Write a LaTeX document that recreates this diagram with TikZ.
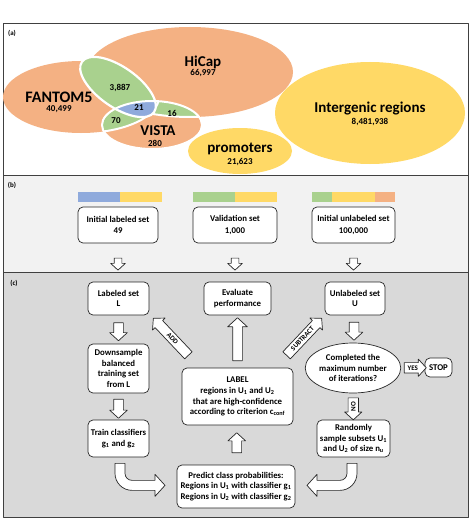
\documentclass[tikz,border=0pt]{standalone}
\usepackage{fontspec}
\setmainfont{Carlito}
\usetikzlibrary{shapes.arrows,shapes.geometric,calc}
\definecolor{vorange}{HTML}{F4B183}
\definecolor{vgreen}{HTML}{A9D18E}
\definecolor{vblue}{HTML}{8FAADC}
\definecolor{vyellow}{HTML}{FFD966}
\definecolor{framec}{HTML}{404040}
\definecolor{panelb}{HTML}{F2F2F2}
\definecolor{panelc}{HTML}{D9D9D9}
\tikzset{box/.style={draw=black!85,fill=white,line width=0.7pt,rounded corners=5pt,align=center,inner sep=1pt,font=\bfseries\fontsize{8.8}{10.8}\selectfont},
  fatarrow/.style={single arrow,draw=black!85,fill=white,line width=0.7pt,inner sep=4.5pt,single arrow head extend=4pt,single arrow tip angle=95},
  tagarrow/.style={fatarrow,inner sep=2.5pt,text height=4.6pt,text depth=0pt,single arrow head extend=3.5pt,font=\bfseries\fontsize{7}{7}\selectfont},
  vname/.style={font=\bfseries\fontsize{15}{16}\selectfont},
  vnum/.style={font=\bfseries\fontsize{9}{10}\selectfont},
  paneltag/.style={font=\bfseries\fontsize{7}{8}\selectfont}}
\newcommand\bentarrowpath{(-3.5,6) -- (6.5,6) -- (6.5,16) .. controls (6.5,19.9) and (9.6,23) .. (13.5,23) -- (36.5,23) -- (36.5,17) -- (46.5,28) -- (36.5,39) -- (36.5,33) -- (13.5,33) .. controls (4.1,33) and (-3.5,25.4) .. (-3.5,16) -- cycle}
\begin{document}
\begin{tikzpicture}[x=1pt,y=-1pt,line join=round]
\useasboundingbox (0,0) rectangle (474,524);
% --- (a) overlap of the region sets
\draw[framec,line width=1pt,fill=white] (3,24) rectangle (468,175);
\node[paneltag] (taga) at (12,33) {(a)};
\fill[vorange] (190,72) ellipse [x radius=103,y radius=45]; % HiCap
\fill[vorange] (81,97) ellipse [x radius=78,y radius=36];   % FANTOM5
\fill[vorange] (152,125) ellipse [x radius=50,y radius=24]; % VISTA
\begin{scope}
\clip (152,125) ellipse [x radius=50,y radius=24];
\fill[vgreen] (190,72) ellipse [x radius=103,y radius=45];
\fill[vgreen] (81,97) ellipse [x radius=78,y radius=36];
\draw[white,line width=2pt] (190,72) ellipse [x radius=103,y radius=45];
\draw[white,line width=2pt] (81,97) ellipse [x radius=78,y radius=36];
\end{scope}
\begin{scope}[shift={(118,87)},rotate=-35]
\fill[vgreen] (0,0) ellipse [x radius=44,y radius=20];
\end{scope}
\begin{scope}
\clip[shift={(118,87)},rotate=-35] (0,0) ellipse [x radius=44,y radius=20];
\fill[vblue] (152,125) ellipse [x radius=50,y radius=24];
\end{scope}
\draw[white,line width=2pt] (152,125) ellipse [x radius=50,y radius=24];
\draw[white,line width=2.2pt,shift={(118,87)},rotate=-35] (0,0) ellipse [x radius=44,y radius=20];
\fill[vyellow] (240,151) ellipse [x radius=52,y radius=23];  % promoters
\fill[vyellow] (370,113) ellipse [x radius=95,y radius=51];  % intergenic
\node[vname] (hicap) at (203,62) {HiCap};
\node[vnum] (hicapn) at (203,73) {66,997};
\node[vname,font=\bfseries\fontsize{16}{17}\selectfont] (fantom) at (59,97) {FANTOM5};
\node[vnum] (fantomn) at (59,109) {40,499};
\node[vnum] (fh) at (120,88) {3,887};
\node[vnum] (fhv) at (139,108) {21};
\node[vnum] (hv) at (172,113) {16};
\node[vnum] (fv) at (116,121) {70};
\node[vname] (vista) at (158,131) {VISTA};
\node[vnum] (vistan) at (155,143) {280};
\node[vname] (prom) at (240,149) {promoters};
\node[vnum] (promn) at (240,162) {21,623};
\node[vname] (inter) at (370,109) {Intergenic regions};
\node[vnum] (intern) at (370,122) {8,481,938};
% --- (b) starting sets
\draw[framec,line width=1pt,fill=panelb] (3,175) rectangle (468,272);
\node[paneltag] (tagb) at (12,185) {(b)};
\fill[vblue] (78,192) rectangle (120,202); \fill[vyellow] (120,192) rectangle (162,202);
\fill[vgreen] (193,192) rectangle (235,202); \fill[vyellow] (235,192) rectangle (277,202);
\fill[vgreen] (312,192) rectangle (332,202); \fill[vyellow] (332,192) rectangle (375,202); \fill[vorange] (375,192) rectangle (395,202);
\node[box,minimum width=80pt,minimum height=36pt] (init) at (118,225) {Initial labeled set\\[1pt]49};
\node[box,minimum width=84pt,minimum height=36pt] (valid) at (235,225) {Validation set\\[1pt]1,000};
\node[box,minimum width=83pt,minimum height=36pt] (pool) at (353.5,225) {Initial unlabeled set\\[1pt]100,000};
\foreach \n in {init,valid,pool}
  \node[fatarrow,inner sep=3.5pt,single arrow head extend=3.5pt,shape border rotate=270,minimum height=12pt] (\n-arr) at ($(\n.south)+(0,19)$) {};
% --- (c) co-training loop
\draw[framec,line width=1pt,fill=panelc] (3,272) rectangle (468,517);
\node[paneltag] (tagc) at (14,283) {(c)};
\node[box,minimum width=61pt,minimum height=33pt] (labd) at (118.5,298.5) {Labeled set\\L};
\node[box,minimum width=67pt,minimum height=33pt] (eval) at (237.5,298.5) {Evaluate\\performance};
\node[box,minimum width=60pt,minimum height=33pt] (unlab) at (355,298.5) {Unlabeled set\\U};
\node[box,minimum width=61pt,minimum height=49pt] (down) at (118.5,368.5) {Downsample\\balanced\\training set\\from L};
\node[box,minimum width=61pt,minimum height=37pt] (train) at (118.5,438.5) {Train classifiers\\g\textsubscript{1} and g\textsubscript{2}};
\node[box,minimum width=111pt,minimum height=57pt] (label) at (237.5,396.5) {LABEL\\regions in U\textsubscript{1} and U\textsubscript{2}\\that are high-confidence\\according to criterion c\textsubscript{conf}};
\node[box,minimum width=118pt,minimum height=43pt] (predict) at (236,486.5) {Predict class probabilities:\\Regions in U\textsubscript{1} with classifier g\textsubscript{1}\\Regions in U\textsubscript{2} with classifier g\textsubscript{2}};
\node[box,ellipse,rounded corners=0pt,inner sep=0pt,minimum width=84pt,minimum height=50pt] (done) at (353,368) {Completed the\\maximum number\\of iterations?};
\node[box,minimum width=27pt,minimum height=19pt] (stop) at (438.5,367.5) {STOP};
\node[box,minimum width=73pt,minimum height=37pt] (rand) at (353.5,438.5) {Randomly\\sample subsets U\textsubscript{1}\\and U\textsubscript{2} of size n\textsubscript{u}};
% block arrows between the boxes
\node[fatarrow,shape border rotate=270,minimum height=18pt] (arr1) at ($(labd.south)!.5!(down.north)$) {};
\node[fatarrow,shape border rotate=270,minimum height=19pt] (arr2) at ($(down.south)!.5!(train.north)$) {};
\node[fatarrow,shape border rotate=270,minimum height=18pt] (arr3) at ($(unlab.south)!.5!(done.north)$) {};
\node[fatarrow,shape border rotate=90,minimum height=20pt] (arr4) at ($(predict.north)!.5!(label.south)$) {};
\node[fatarrow,shape border rotate=90,minimum height=43pt,single arrow head extend=5pt] (arr5) at ($(label.north)!.5!(eval.south)$) {};
\node[tagarrow,minimum height=22pt] (yes) at ($(done.east)!.5!(stop.west)$) {YES};
\node[tagarrow,rotate=90,shape border rotate=180,minimum height=22pt] (no) at ($(done.south)!.5!(rand.north)$) {NO};
\node[tagarrow,rotate=-46.6,shape border rotate=180,minimum height=51pt] (add) at (172.5,338.5) {ADD};
\node[tagarrow,rotate=46.6,minimum height=51pt] (sub) at (302.5,338.5) {SUBTRACT};
\filldraw[fill=white,draw=black!85,line width=0.7pt,shift={(train.south)}] \bentarrowpath;
\filldraw[fill=white,draw=black!85,line width=0.7pt,shift={(rand.south)},xscale=-1] \bentarrowpath;
\end{tikzpicture}
\end{document}
